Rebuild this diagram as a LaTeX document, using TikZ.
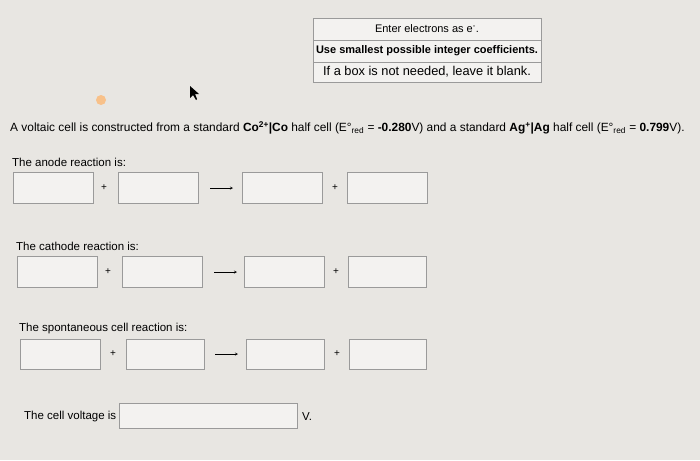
\documentclass[tikz,border=0pt]{standalone}
\usepackage{fontspec}
\setmainfont{Liberation Sans}
\definecolor{bg}{HTML}{E8E6E2}
\definecolor{bx}{HTML}{F3F2F0}
\definecolor{bd}{HTML}{9A9A9A}
\begin{document}
\begin{tikzpicture}[x=1pt,y=-1pt,
  ansbox/.style={draw=bd,fill=bx,line width=0.6pt},
  txt/.style={inner sep=0pt,anchor=west,font=\fontsize{11.5}{13}\selectfont},
  pl/.style={inner sep=0pt,font=\fontsize{10}{11}\selectfont}]
\fill[bg] (0,0) rectangle (700,460);
\useasboundingbox (0,0) rectangle (700,460);
% instruction table
\draw[bd,fill=bx,line width=0.6pt] (313,18) rectangle (541,82);
\draw[bd,line width=0.6pt] (313,40) -- (541,40) (313,62) -- (541,62);
\node[pl,font=\fontsize{11}{12}\selectfont] (t1) at (427,29) {Enter electrons as e\textsuperscript{-}.};
\node[pl,font=\fontsize{11}{12}\selectfont\bfseries] (t2) at (427,51) {Use smallest possible integer coefficients.};
\node[pl,font=\fontsize{12.8}{14}\selectfont] (t3) at (427,72) {If a box is not needed, leave it blank.};
% artifacts
\fill[orange!60,opacity=0.7] (101,100) circle (5);
\fill[black] (190,86) -- (190,98) -- (193,95) -- (196,100) -- (197,99) -- (195,94) -- (199,94) -- cycle;
% question
\node[txt,font=\fontsize{11.9}{13}\selectfont] (q) at (10,128) {A voltaic cell is constructed from a standard \textbf{Co\textsuperscript{2+}|Co} half cell (E°\textsubscript{red} = \textbf{-0.280}V) and a standard \textbf{Ag\textsuperscript{+}|Ag} half cell (E°\textsubscript{red} = \textbf{0.799}V).};
% rows
\node[txt] (la) at (12,162) {The anode reaction is:};
\draw[ansbox] (13,172) rectangle (93,203);
\node[pl] (pa1) at (104,188) {+};
\draw[ansbox] (118,172) rectangle (198,203);
\draw[-stealth] (210,188) -- (233,188);
\draw[ansbox] (242,172) rectangle (322,203);
\node[pl] (pa2) at (335,188) {+};
\draw[ansbox] (347,172) rectangle (427,203);

\node[txt] (lc) at (16,246) {The cathode reaction is:};
\draw[ansbox] (17,256) rectangle (97,287);
\node[pl] (pc1) at (108,272) {+};
\draw[ansbox] (122,256) rectangle (202,287);
\draw[-stealth] (214,272) -- (237,272);
\draw[ansbox] (244,256) rectangle (324,287);
\node[pl] (pc2) at (336,272) {+};
\draw[ansbox] (348,256) rectangle (426,287);

\node[txt] (ls) at (19,329) {The spontaneous cell reaction is:};
\draw[ansbox] (20,339) rectangle (100,369);
\node[pl] (ps1) at (113,354) {+};
\draw[ansbox] (126,339) rectangle (204,369);
\draw[-stealth] (215,354) -- (238,354);
\draw[ansbox] (246,339) rectangle (324,369);
\node[pl] (ps2) at (337,354) {+};
\draw[ansbox] (349,339) rectangle (426,369);

\node[txt] (lv) at (24,417) {The cell voltage is};
\draw[ansbox] (119,403) rectangle (297,428);
\node[txt] (vv) at (302,417) {V.};
\end{tikzpicture}
\end{document}
